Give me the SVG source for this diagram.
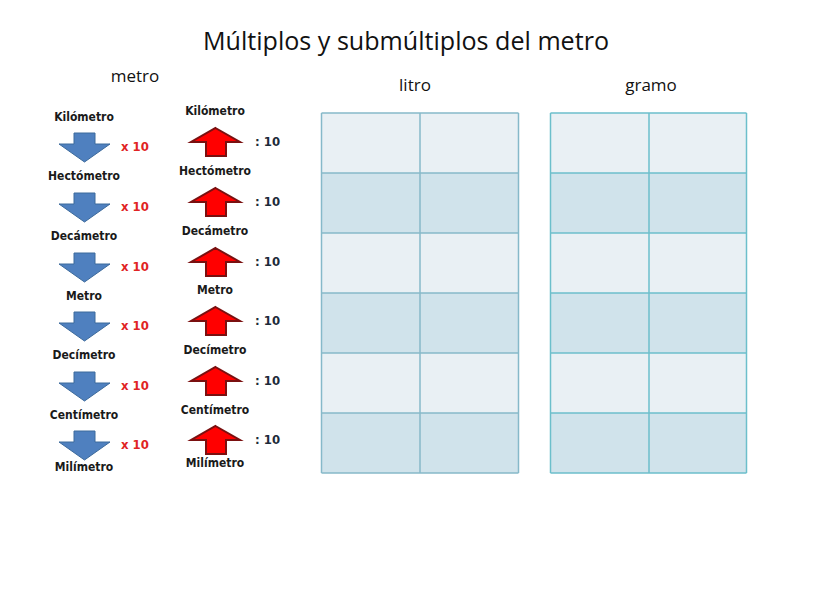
<svg xmlns="http://www.w3.org/2000/svg" width="827" height="616" viewBox="0 0 827 616">
<defs>
<style>
.title{font-family:"Open Sans","Noto Sans",sans-serif;font-size:25px;fill:#111}
.head{font-family:"Open Sans","Noto Sans",sans-serif;font-size:17px;fill:#111}
.lab{font-family:"DejaVu Sans Condensed","Liberation Sans",sans-serif;font-weight:bold;font-size:12px;fill:#1a1a1a;text-anchor:middle}
.mul{font-family:"DejaVu Sans Condensed","Liberation Sans",sans-serif;font-weight:bold;font-size:13px;fill:#e02424}
.div{font-family:"DejaVu Sans Condensed","Liberation Sans",sans-serif;font-weight:bold;font-size:13px;fill:#1d2b3a}
.down{fill:#4f80bf;stroke:#3c6a9c;stroke-width:1}
.up{fill:#ff0000;stroke:#7a1010;stroke-width:2;stroke-linejoin:miter}
.rA{fill:#e9f0f4}
.rB{fill:#d0e3eb}
.g1{stroke:#86b9c9;stroke-width:1.5;fill:none}
.g2{stroke:#6cbfcb;stroke-width:1.5;fill:none}
</style>
<path id="dn" class="down" d="M74,133 H95 V144 H110 L84.5,162 L59,144 H74 Z"/>
<path id="upa" class="up" d="M215.5,128 L240,142 H226 V156 H206 V142 H191 Z"/>
</defs>
<rect width="827" height="616" fill="#fff"/>
<text class="title" x="406" y="50" text-anchor="middle" textLength="406" lengthAdjust="spacingAndGlyphs">Múltiplos y submúltiplos del metro</text>
<text class="head" x="135" y="82" text-anchor="middle">metro</text>
<text class="head" x="415" y="91" text-anchor="middle">litro</text>
<text class="head" x="651" y="91" text-anchor="middle">gramo</text>

<g id="left-labels">
<text class="lab" x="84" y="121">Kilómetro</text>
<text class="lab" x="84" y="180">Hectómetro</text>
<text class="lab" x="84" y="240">Decámetro</text>
<text class="lab" x="84" y="300">Metro</text>
<text class="lab" x="84" y="359">Decímetro</text>
<text class="lab" x="84" y="419">Centímetro</text>
<text class="lab" x="84" y="471">Milímetro</text>
</g>
<g id="right-labels">
<text class="lab" x="215" y="115">Kilómetro</text>
<text class="lab" x="215" y="175">Hectómetro</text>
<text class="lab" x="215" y="235">Decámetro</text>
<text class="lab" x="215" y="294">Metro</text>
<text class="lab" x="215" y="354">Decímetro</text>
<text class="lab" x="215" y="414">Centímetro</text>
<text class="lab" x="215" y="467">Milímetro</text>
</g>
<g id="connectors">
<use href="#dn"/>
<use href="#dn" y="60"/>
<use href="#dn" y="120"/>
<use href="#dn" y="179"/>
<use href="#dn" y="239"/>
<use href="#dn" y="298"/>
<use href="#upa"/>
<use href="#upa" y="60"/>
<use href="#upa" y="120"/>
<use href="#upa" y="179"/>
<use href="#upa" y="239"/>
<use href="#upa" y="298"/>
</g>
<g id="factors">
<text class="mul" x="121" y="151">x 10</text>
<text class="mul" x="121" y="211">x 10</text>
<text class="mul" x="121" y="271">x 10</text>
<text class="mul" x="121" y="330">x 10</text>
<text class="mul" x="121" y="390">x 10</text>
<text class="mul" x="121" y="449">x 10</text>
<text class="div" x="255" y="146">: 10</text>
<text class="div" x="255" y="206">: 10</text>
<text class="div" x="255" y="266">: 10</text>
<text class="div" x="255" y="325">: 10</text>
<text class="div" x="255" y="385">: 10</text>
<text class="div" x="255" y="444">: 10</text>
</g>

<g id="table-litro">
<rect class="rA" x="321.5" y="113" width="197" height="60"/>
<rect class="rB" x="321.5" y="173" width="197" height="60"/>
<rect class="rA" x="321.5" y="233" width="197" height="60"/>
<rect class="rB" x="321.5" y="293" width="197" height="60"/>
<rect class="rA" x="321.5" y="353" width="197" height="60"/>
<rect class="rB" x="321.5" y="413" width="197" height="60"/>
<path class="g1" d="M321.5,113 H518.5 M321.5,173 H518.5 M321.5,233 H518.5 M321.5,293 H518.5 M321.5,353 H518.5 M321.5,413 H518.5 M321.5,473 H518.5 M321.5,113 V473 M420,113 V473 M518.5,113 V473"/>
</g>
<g id="table-gramo">
<rect class="rA" x="550.5" y="113" width="196" height="60"/>
<rect class="rB" x="550.5" y="173" width="196" height="60"/>
<rect class="rA" x="550.5" y="233" width="196" height="60"/>
<rect class="rB" x="550.5" y="293" width="196" height="60"/>
<rect class="rA" x="550.5" y="353" width="196" height="60"/>
<rect class="rB" x="550.5" y="413" width="196" height="60"/>
<path class="g2" d="M550.5,113 H746.5 M550.5,173 H746.5 M550.5,233 H746.5 M550.5,293 H746.5 M550.5,353 H746.5 M550.5,413 H746.5 M550.5,473 H746.5 M550.5,113 V473 M649,113 V473 M746.5,113 V473"/>
</g>
</svg>
